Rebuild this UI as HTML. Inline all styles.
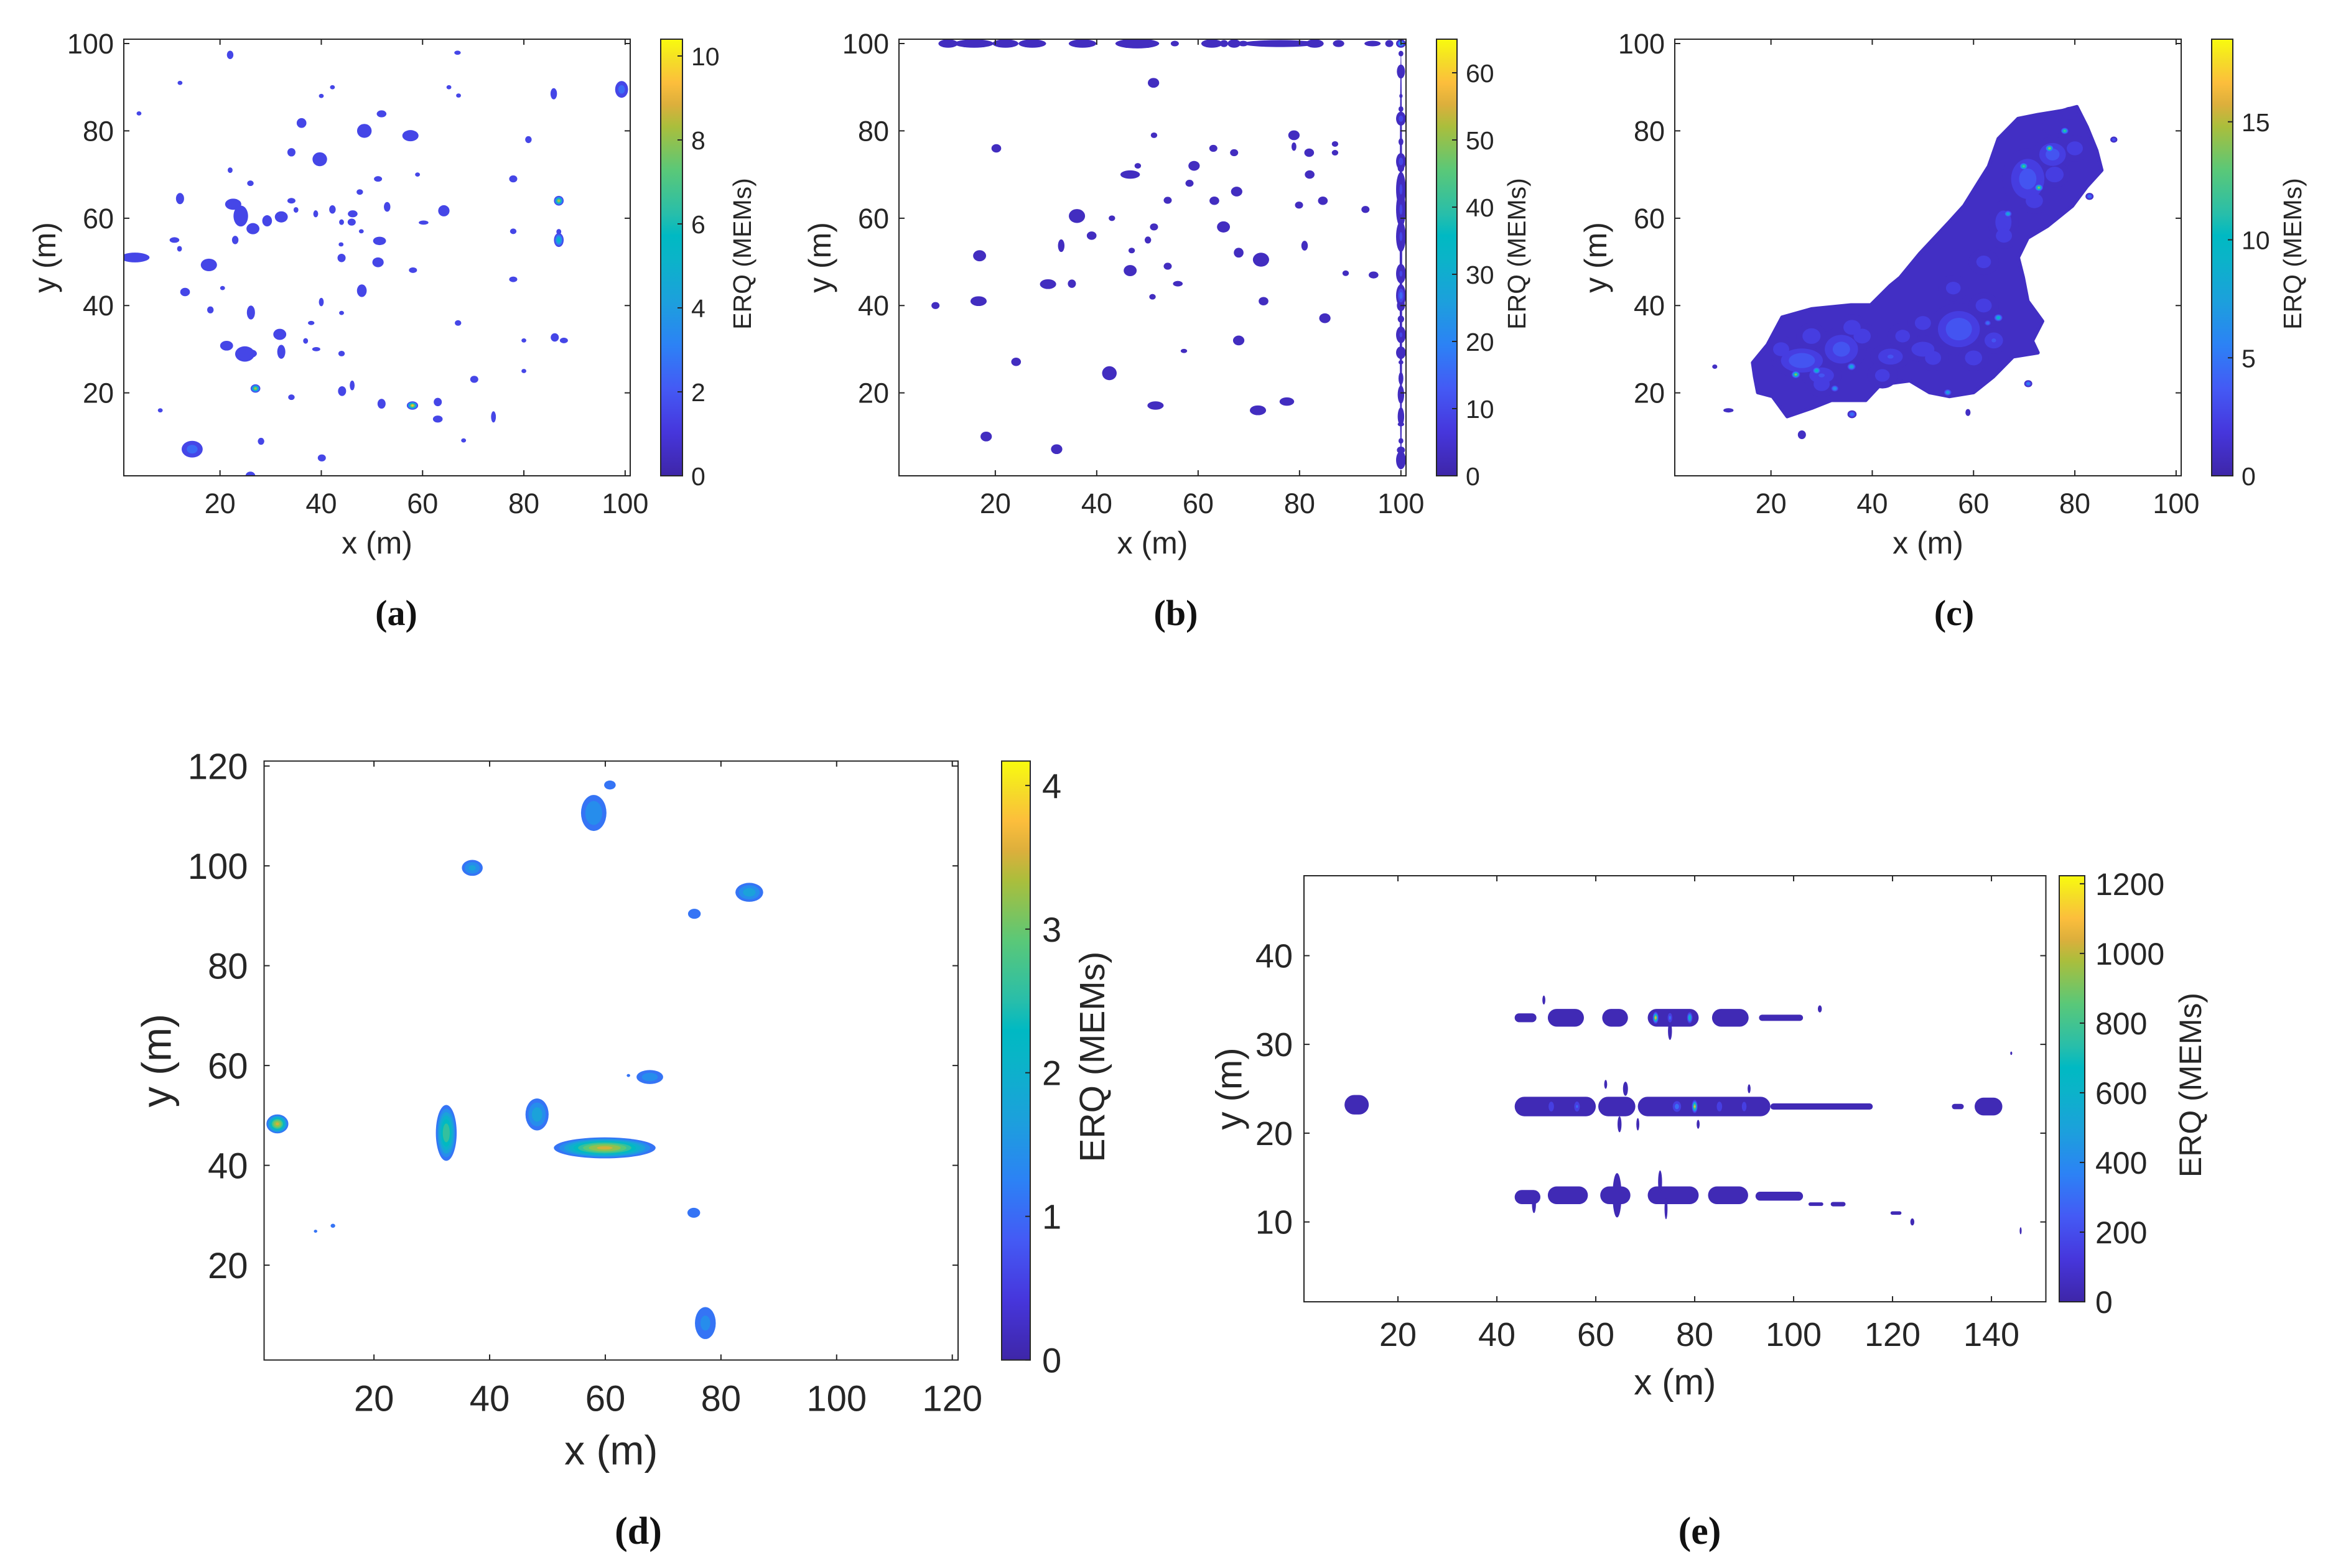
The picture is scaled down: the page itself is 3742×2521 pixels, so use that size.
<!DOCTYPE html>
<html><head><meta charset="utf-8"><style>
html,body{margin:0;padding:0;background:#fff;}
svg{display:block;font-family:"Liberation Sans",sans-serif;}
</style></head><body>
<svg id="fig" width="3742" height="2521" viewBox="0 0 3742 2521" xmlns="http://www.w3.org/2000/svg">
<rect width="3742" height="2521" fill="#fff"/>
<defs id="defs"></defs>
<g id="layer"></g>
<text x="637" y="1005" font-family="Liberation Serif,serif" font-weight="bold" font-size="58" text-anchor="middle" fill="#111">(a)</text>
<text x="1890" y="1005" font-family="Liberation Serif,serif" font-weight="bold" font-size="58" text-anchor="middle" fill="#111">(b)</text>
<text x="3141" y="1005" font-family="Liberation Serif,serif" font-weight="bold" font-size="58" text-anchor="middle" fill="#111">(c)</text>
<text x="1026" y="2482" font-family="Liberation Serif,serif" font-weight="bold" font-size="62" text-anchor="middle" fill="#111">(d)</text>
<text x="2732" y="2482" font-family="Liberation Serif,serif" font-weight="bold" font-size="62" text-anchor="middle" fill="#111">(e)</text>
</svg>
<script>
// ---------- DATA ----------
const aX=[99.3,3.2,14.5,86.9,86.9,27,58,57.6,39.7,48.5,36.1,34.1,51.9,85.9,80.9,22,66.9,22.6,24.1,12.1,26.5,29.3,32.1,46.2,53,51.2,51.5,17.8,13.1,48,44,64.2,60.2,77.9,77.9,58.1,26.1,18.1,21.3,24.9,26,31.8,32.1,44.1,46.1,51.9,63,63,74,86.1,87.9,70.2,40.1,26,34.1,34.1,42.2,47.6,59,51.2,26,22,40,44,77.9,80,67,80,68.1,28.1,8.2,4,12.1,35,38.9,44,46,43.9,47.9,20.5,11,12,23,36.9,39,44,38,65.2,67.1,42.2,40,86.9];
const aY=[89.5,51,7.1,64,55,21,17.1,78.9,73.5,80,81.8,75.1,83.9,88.5,78,97.4,97.9,63.2,60.5,64.5,57.6,59.4,60.3,61,62.6,49.9,54.8,49.3,43.1,43.4,50.9,61.7,59,69,46,48.1,38.4,39,30.8,28.9,29,33.4,29.4,20.4,21.7,17.5,17.9,14,14.5,32.7,32,23.1,5.1,1,19,64,62,66,70,69,68,71,40.8,38.3,57,32,36,25,9.1,8.9,16,84,91,61.9,61,59.1,59.1,54,57,44,55,53,55,31.9,30,29,36,90,88.1,90,88,56.9];
const aRx=[0.8,1.8,1.3,0.6,0.6,0.6,0.7,1.0,0.9,0.9,0.6,0.5,0.6,0.4,0.4,0.4,0.4,1.0,0.9,0.5,0.8,0.6,0.8,0.6,0.4,0.7,0.8,1.0,0.6,0.6,0.5,0.7,0.6,0.5,0.5,0.5,0.5,0.4,0.8,1.2,0.8,0.8,0.5,0.5,0.3,0.5,0.5,0.6,0.3,0.5,0.5,0.5,0.5,0.6,0.4,0.5,0.4,0.4,0.3,0.5,0.4,0.3,0.3,0.3,0.4,0.3,0.4,0.3,0.3,0.4,0.3,0.3,0.3,0.3,0.3,0.3,0.5,0.3,0.3,0.3,0.6,0.3,0.4,0.3,0.5,0.4,0.4,0.3,0.3,0.3,0.3,0.3];
const aRy=[1.2,0.7,1.2,0.7,1.0,0.6,0.6,0.8,1.0,1.0,0.7,0.6,0.5,0.8,0.5,0.6,0.3,0.8,1.5,0.8,0.8,0.8,0.8,0.5,0.7,0.7,0.6,0.9,0.6,0.9,0.6,0.8,0.3,0.5,0.4,0.4,1.0,0.5,0.7,1.1,0.6,0.8,1.0,0.7,0.7,0.7,0.6,0.5,0.8,0.6,0.4,0.5,0.5,0.6,0.4,0.4,0.6,0.4,0.3,0.4,0.4,0.4,0.6,0.3,0.4,0.3,0.4,0.3,0.3,0.5,0.3,0.3,0.3,0.4,0.5,0.4,0.5,0.3,0.3,0.3,0.4,0.4,0.6,0.4,0.3,0.4,0.3,0.3,0.3,0.3,0.3,0.4];
const aV=[3,2.5,3,9,6,9,10,2.2,2,2,2,2,2,2,2,2,2,2,2,2,2,2,2,2,2,2,2,2,2,2.2,2,2,2,2,2,2,2,2,2,2.2,2,2,2,2,2,2,2,2,2,2,2,2,2,2,2,2,2,2,2,2,2,2,2,2,2,2,2,2,2,2,2,2,2,2,2,2,2,2,2,2,2,2,2,2,2,2,2,2,2,2,2,2];
const aLevels=[1.5,2.5,3.5,4.5,5.5,6.5,7.5,8.5,9.5];
const aXTicks=[20,40,60,80,100], aYTicks=[20,40,60,80,100], aCTicks=[0,2,4,6,8,10];

const bX=[10.7,15.8,22,27.3,37.2,48,55.4,62.7,65.1,67.1,68.9,76.1,83,87.7,94.4,97.7,100,
 100,100,100,100,100,100,100,100,100,100,100,100,100,100,100,100,100,100,100,100,100,100,100,100,100,100,
 51.2,20.2,36.1,16.9,16.7,30.4,8.2,24.1,42.5,51.6,32.1,18.2,71.8,77.5,68,85,72.9,72.4,68,65,67.6,63.2,59.2,58.3,63,67.1,78.9,81.9,82,87,87,79.9,93,84.6,46.6,48.1,51.3,51,54,56,57.2,46.6,46.9,33,35.1,39,43,51.3,50.1,54,94.6,89.1,81,78.9];
const bY=[100,100,100,100,100,100,100,100,100,100,100,100,100,100,100,100,100,
 97.7,93.6,88,85,82.8,77.5,73,71.4,66.6,62,55.8,47.3,42.3,40,36.9,33.3,29.2,27,23.3,19.6,14.6,12.8,9,6.9,4.6,50,
 91,76,60.5,51.4,41,44.9,40,27.1,24.5,17.1,7.1,10,16,18,32,37.1,41,50.5,52.1,58,66.1,64,72,68,76,75,79,75,70,77,75,63,62,64,70,72,79,42,49,45,29.6,48,52.6,53.7,45,56,60,58,55,64.1,47,47.4,53.7,76.4];
const bRx=[1.2,2.4,1.6,1.7,1.7,2.7,0.5,1.3,0.5,0.8,0.6,4.6,1.1,0.7,1.0,0.5,0.6,
 0.3,0.5,0.2,0.3,0.6,0.3,0.6,0.4,0.6,0.6,0.6,0.6,0.6,0.5,0.4,0.6,0.6,0.3,0.3,0.4,0.4,0.4,0.3,0.5,0.6,0.15,
 0.7,0.6,1.0,0.8,1.0,1.0,0.5,0.6,0.9,1.0,0.7,0.7,1.0,0.9,0.7,0.7,0.6,1.0,0.6,0.8,0.7,0.6,0.7,0.5,0.5,0.5,0.7,0.6,0.6,0.4,0.4,0.5,0.5,0.6,1.2,0.4,0.4,0.4,0.5,0.6,0.4,0.8,0.4,0.4,0.5,0.6,0.4,0.5,0.4,0.5,0.6,0.4,0.4,0.3];
const bRy=[0.6,0.6,0.6,0.6,0.6,0.7,0.4,0.6,0.5,0.6,0.4,0.5,0.6,0.5,0.4,0.5,0.6,
 0.4,1.0,0.3,0.4,1.0,0.5,1.2,0.5,2.5,2.5,2.2,1.4,1.6,0.8,0.5,1.2,0.9,0.3,0.9,1.3,1.3,0.3,0.4,0.5,1.3,30,
 0.7,0.6,1.0,0.8,0.7,0.7,0.5,0.6,1.0,0.6,0.7,0.7,0.7,0.6,0.7,0.7,0.6,1.0,0.7,0.8,0.7,0.6,0.7,0.5,0.5,0.5,0.7,0.6,0.6,0.4,0.4,0.5,0.5,0.6,0.6,0.4,0.4,0.4,0.5,0.4,0.3,0.8,0.4,0.9,0.6,0.6,0.4,0.5,0.5,0.5,0.5,0.4,0.7,0.6,0.3];
const bV=[8,8,8,8,8,9,8,8,8,8,8,8,8,8,8,8,35,
 8,8,8,8,12,8,12,8,10,10,10,10,18,8,8,10,8,8,8,8,8,8,8,8,8,4,
 8,8,8,8,8,8,8,8,8,8,8,8,8,8,8,8,8,8,8,8,8,8,8,8,8,8,8,8,8,8,8,8,8,8,8,8,8,8,8,8,8,8,8,8,8,8,8,8,8,8,8,8,8,8];
const bLevels=[3,9,15,21,27,33];
const bXTicks=[20,40,60,80,100], bYTicks=[20,40,60,80,100], bCTicks=[0,10,20,30,40,50,60];

const cCloudX=[16.4,19.3,22.2,28,35.8,39.7,43.6,45.5,49.4,52.3,55.2,58.1,61,63,64.9,68.8,72.7,77.5,80.4,82.4,84.3,85.3,82.4,79.5,74.6,70.7,68.8,69.8,70.7,73.6,71.6,72.7,67.8,63.9,60,55.2,51.3,47.4,41.6,38.7,31.9,28,23.2,20.3,17.4,16.8];
const cCloudY=[26.9,31,37.3,39.2,40.1,40.1,44.6,46.4,51.9,55.5,59.1,62.8,68.2,71.9,78.2,82.8,83.7,84.6,85.5,80.9,75.5,71,67.3,62.8,58.2,55.5,51,46.4,41,36.4,31.9,29.2,28.3,23.7,20.1,19.2,20.1,22.8,21.9,18.3,18.3,16.5,14.6,19.2,20.1,23.7];
const cX=[26.1,33.9,43.6,57.1,70.7,75.6,65.9,30,50,38,62,22,28,36,46,52,60,64,56,62,66,72,76,80,30,42,50,24.9,29,32.6,35.9,54.9,70.8,36,64.9,62.8,66.8,69.9,72.9,75,78,82.9,87.7,11.6,8.9,26.1,58.9,75.5,79];
const cY=[27.4,30,28.3,34.6,69,74.6,59.1,24,30,33,40,30,33,35,33,28,28,32,44,50,56,64,70,76,22,24,36,24.2,25.1,21,26,20.1,22.1,15.1,37.2,36,61,71.9,67,76,80,65,78,16,26,10.4,15.5,81,84];
const cRx=[6,5,4,6,5,4,3,4,4,3,3,3,3,3,3,3,3,3,3,3,3,3,3,3,3,3,3,1,1,0.9,1,0.9,0.8,0.9,1,0.8,0.9,1,1,1,0.9,0.8,0.7,1,0.5,0.8,0.5,2,1.5];
const cRy=[4,5,3,6,7,4,5,3,3,3,3,3,3,3,3,3,3,3,3,3,3,3,3,3,3,3,3,1,1,0.9,1,0.9,0.8,0.9,1,0.8,0.9,1,1,1,0.9,0.8,0.7,0.5,0.5,1,0.8,2,1.5];
const cV=[4.5,4,3.5,4.5,4,4,3,3.5,3.2,3.2,3,3,3.4,3.2,2.8,3,3.2,3.5,2.8,2.8,3,3.2,3.4,3,3,2.8,3,15,11,8,10,9,7,6,11,6,10,14,15,16,13,6,4,2,2,2,2,2,2];
const cLevels=[1,2.2,3.4,4.6,6,8,10,12,14,16];
const cXTicks=[20,40,60,80,100], cYTicks=[20,40,60,80,100], cCTicks=[0,5,10,15];

const dX=[3.3,32.5,48.2,59.9,67.7,37,58,60.8,84.9,75.4,75.3,77.3,9.9,12.9,64];
const dY=[48.3,46.5,50.2,43.5,57.7,99.6,110.6,116.2,94.7,90.4,30.5,8.4,26.8,27.9,58];
const dRx=[1.9,1.8,2.0,8.8,2.3,1.8,2.2,1.0,2.4,1.1,1.1,1.8,0.3,0.4,0.3];
const dRy=[1.9,5.6,3.2,2.1,1.4,1.6,3.6,0.9,1.9,1.0,1.0,3.2,0.3,0.4,0.3];
const dV=[3.6,2.9,1.9,3.6,1.6,1.8,1.7,1.2,1.9,1.3,1.3,1.5,1.15,1.15,1.15];
const dLevels=[1.1,1.4,1.7,2.0,2.3,2.6,2.9,3.2,3.5];
const dXTicks=[20,40,60,80,100,120], dYTicks=[20,40,60,80,100,120], dCTicks=[0,1,2,3,4];

const eSegX0=[43.6,50.3,61.3,70.5,83.5,93,43.6,60.5,68.5,95.3,9.2,136.6,132,43.6,50.3,60.9,70.5,82.7,92.3,103,107.5,119.6];
const eSegX1=[48,57.6,66.5,80.8,90.9,101.9,60,68,95.3,116,14.1,142.2,134.4,48.8,58.4,67,80.8,90.8,101.9,106,110.5,121.8];
const eSegY=[33,33,33,33,33,33,23,23,23,23,23.2,23,23,12.8,13,13,13,13,12.9,12,12,11];
const eSegH=[0.5,1.0,1.0,1.0,1.0,0.35,1.1,1.1,1.1,0.35,1.1,1.0,0.3,0.8,1.0,1.0,1.0,1.0,0.5,0.2,0.25,0.2];
const eX=[72.1,75,79,51,56.2,76.4,80,85,90,64.3,73,74.2,49.5,105.3,66,62,68.5,80.7,91,64.8,124,145.9,144,75,47.5];
const eY=[33,33,33,23,23,23,23,23,23,13,14.5,11.5,35,34,25,25.5,21,21,25,21,10,9,29,31.5,12];
const eRx=[0.8,0.8,0.8,1,1,1.4,0.8,1,0.9,0.9,0.4,0.3,0.3,0.4,0.5,0.3,0.3,0.3,0.3,0.4,0.4,0.2,0.2,0.4,0.4];
const eRy=[0.9,0.9,0.9,1,1,1,1,1,1,2.5,1.3,1.2,0.5,0.4,0.8,0.5,0.7,0.5,0.5,0.9,0.4,0.4,0.2,1,1];
const eV=[1150,350,700,300,320,380,1100,300,280,60,60,60,60,60,60,60,60,60,60,60,60,60,60,60,60];
const eLevels=[30,150,300,450,600,750,900,1050,1200];
const eXTicks=[20,40,60,80,100,120,140], eYTicks=[10,20,30,40], eCTicks=[0,200,400,600,800,1000,1200];

// ---------- RENDERING ----------
const NS='http://www.w3.org/2000/svg';
const layer=document.getElementById('layer');
const defs=document.getElementById('defs');
const CMAP=[[0,62,38,168],[0.1,70,54,220],[0.2,68,90,245],[0.3,44,130,245],[0.4,28,160,220],[0.5,10,180,200],[0.55,0,185,195],[0.6,40,190,170],[0.7,90,200,120],[0.8,170,190,60],[0.85,220,175,60],[0.9,252,190,60],[0.95,245,220,40],[1,249,251,14]];
function cmap(t){t=Math.max(0,Math.min(1,t));for(let i=1;i<CMAP.length;i++){if(t<=CMAP[i][0]){const a=CMAP[i-1],b=CMAP[i];const f=(t-a[0])/(b[0]-a[0]);return 'rgb('+[1,2,3].map(k=>Math.round(a[k]+f*(b[k]-a[k]))).join(',')+')';}}return 'rgb(249,251,14)';}
function mk(tag,attrs,parent){const e=document.createElementNS(NS,tag);for(const k in attrs)e.setAttribute(k,attrs[k]);(parent||layer).appendChild(e);return e;}

function makePanel(id,P){
  const g=mk('g',{});
  
  
  P.g=g;
  P.sx=v=>P.L+(v-P.x0)/(P.x1-P.x0)*(P.R-P.L);
  P.sy=v=>P.B-(v-P.y0)/(P.y1-P.y0)*(P.B-P.T);
  const cp=mk('clipPath',{id:'clip-'+id},defs);
  mk('rect',{x:P.L,y:P.T,width:P.R-P.L,height:P.B-P.T},cp);
  const plot=mk('g',{'clip-path':'url(#clip-'+id+')'},g);
  
  
  P.plot=plot;
  return P;
}
function drawBlobs(P,xs,ys,rxs,rys,vs,levels,name){
  const L0=levels[0];const k=P.scale||1;
  levels.forEach((L,li)=>{
    for(let i=0;i<xs.length;i++){
      const v=vs[i]; if(v<=L) continue;
      const f=k*(li===0?1:Math.sqrt(Math.log(v/L)/Math.log(v/L0)));
      const e=mk('ellipse',{cx:P.sx(xs[i]),cy:P.sy(ys[i]),rx:Math.max(1.5,Math.abs(P.sx(xs[i]+rxs[i]*f)-P.sx(xs[i]))),ry:Math.max(1.5,Math.abs(P.sy(ys[i]+rys[i]*f)-P.sy(ys[i]))),fill:cmap(L/P.cmax)},P.plot);
      
      
    }
  });
}
function drawAxes(P,id,xt,yt,ct,F){
  const g=P.g;
  const box=mk('rect',{x:P.L,y:P.T,width:P.R-P.L,height:P.B-P.T,fill:'none',stroke:'#262626','stroke-width':2},g);
  
  
  xt.forEach(v=>{
    const x=P.sx(v);
    const t1=mk('path',{d:`M${x},${P.B}v-9M${x},${P.T}v9`,stroke:'#262626','stroke-width':2},g);
    
    
    const tx=mk('text',{x:x,y:P.B+F.xtb,'font-size':F.tick,'text-anchor':'middle',fill:'#262626'},g);
    tx.textContent=v;
    
    
  });
  yt.forEach(v=>{
    const y=P.sy(v);
    const t1=mk('path',{d:`M${P.L},${y}h9M${P.R},${y}h-9`,stroke:'#262626','stroke-width':2},g);
    
    
    const tx=mk('text',{x:P.L-F.ytr,y:y+F.yto,'font-size':F.tick,'text-anchor':'end',fill:'#262626'},g);
    tx.textContent=v;
    
    
  });
  const xl=mk('text',{x:(P.L+P.R)/2,y:P.B+F.xlb,'font-size':F.label,'text-anchor':'middle',fill:'#262626'},g);
  xl.textContent='x (m)';
  
  
  const ycx=P.L-F.ylx, ycy=(P.T+P.B)/2;
  const yl=mk('text',{x:ycx,y:ycy,'font-size':F.label,'text-anchor':'middle','dominant-baseline':'central',transform:`rotate(-90 ${ycx} ${ycy})`,fill:'#262626'},g);
  yl.textContent='y (m)';
  
  
  const gr=mk('linearGradient',{id:'grad-'+id,x1:0,y1:1,x2:0,y2:0},defs);
  CMAP.forEach(s=>mk('stop',{offset:s[0],'stop-color':cmap(s[0])},gr));
  const cb=mk('rect',{x:P.cL,y:P.T,width:P.cR-P.cL,height:P.B-P.T,fill:'url(#grad-'+id+')',stroke:'#262626','stroke-width':2},g);
  
  
  const cy=v=>P.B-v/P.cmax*(P.B-P.T);
  ct.forEach(v=>{
    const y=cy(v);
    const t1=mk('path',{d:`M${P.cR},${y}h-8`,stroke:'#262626','stroke-width':2},g);
    
    
    const tx=mk('text',{x:P.cR+F.cbx,y:y+F.cbo,'font-size':F.cbtick,fill:'#262626'},g);
    tx.textContent=v;
    
    
  });
  const ecx=P.cR+F.erx, ecy=(P.T+P.B)/2-6;
  const el=mk('text',{x:ecx,y:ecy,'font-size':F.erq,'text-anchor':'middle','dominant-baseline':'central',transform:`rotate(-90 ${ecx} ${ecy})`,fill:'#262626'},g);
  el.textContent='ERQ (MEMs)';
  
  
}
const FS={tick:45,label:50,cbtick:41,erq:41,xtb:60,ytr:16,yto:16,xlb:125,ylx:127,cbx:14,cbo:15,erx:96};

const PA=makePanel('a',{L:199,R:1013,T:63,B:765,x0:1,x1:101,y0:1,y1:101,cL:1062,cR:1097,cmax:10.4,scale:1.6});
drawBlobs(PA,aX,aY,aRx,aRy,aV,aLevels,'blob-a');
drawAxes(PA,'a',aXTicks,aYTicks,aCTicks,FS);

const PB=makePanel('b',{L:1445,R:2260,T:63,B:765,x0:1,x1:101,y0:1,y1:101,cL:2309,cR:2342,cmax:65,scale:1.6});
drawBlobs(PB,bX,bY,bRx,bRy,bV,bLevels,'blob-b');
drawAxes(PB,'b',bXTicks,bYTicks,bCTicks,FS);

const PC=makePanel('c',{L:2692,R:3506,T:63,B:765,x0:1,x1:101,y0:1,y1:101,cL:3555,cR:3589,cmax:18.5});
{
  let d='';
  for(let i=0;i<cCloudX.length;i++){d+=(i?'L':'M')+PC.sx(cCloudX[i])+','+PC.sy(cCloudY[i]);}
  const poly=mk('path',{d:d+'Z',fill:cmap(cLevels[0]/PC.cmax),stroke:cmap(cLevels[0]/PC.cmax),'stroke-width':6,'stroke-linejoin':'round'},PC.plot);
  
  
}
drawBlobs(PC,cX,cY,cRx,cRy,cV,cLevels,'blob-c');
drawAxes(PC,'c',cXTicks,cYTicks,cCTicks,FS);

const PD=makePanel('d',{L:424.5,R:1540,T:1223.6,B:2186.6,x0:1,x1:121,y0:1,y1:121,cL:1610,cR:1656,cmax:4.17});
drawBlobs(PD,dX,dY,dRx,dRy,dV,dLevels,'blob-d');
drawAxes(PD,'d',dXTicks,dYTicks,dCTicks,{tick:58,label:66,cbtick:56,erq:57,xtb:82,ytr:26,yto:21,xlb:168,ylx:173,cbx:19,cbo:20,erx:100});

const PE=makePanel('e',{L:2096,R:3288.5,T:1408,B:2093,x0:1,x1:151,y0:1,y1:49,cL:3310,cR:3351,cmax:1223});
for(let i=0;i<eSegX0.length;i++){
  const x0=PE.sx(eSegX0[i]),x1=PE.sx(eSegX1[i]),yt=PE.sy(eSegY[i]+eSegH[i]),yb=PE.sy(eSegY[i]-eSegH[i]);
  const h=yb-yt;
  const r=mk('rect',{x:x0,y:yt,width:x1-x0,height:h,rx:Math.min(h/2,(x1-x0)/2),ry:h/2,fill:cmap(eLevels[0]/PE.cmax)},PE.plot);
  
  
}
drawBlobs(PE,eX,eY,eRx,eRy,eV,eLevels,'blob-e');
drawAxes(PE,'e',eXTicks,eYTicks,eCTicks,{tick:54,label:58,cbtick:50,erq:50,xtb:71,ytr:18,yto:19,xlb:149,ylx:120,cbx:17,cbo:18,erx:170});
</script>
</body></html>
